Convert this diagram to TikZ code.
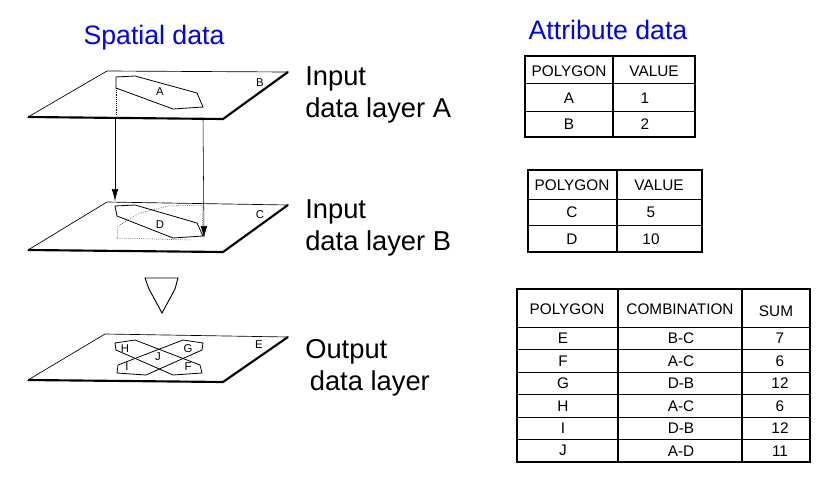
\documentclass[tikz,border=0pt]{standalone}
\usepackage{fontspec}
\setmainfont{Liberation Sans}
\usetikzlibrary{arrows.meta}
\begin{document}
\begin{tikzpicture}[x=0.75pt,y=-0.75pt,
  plane/.style={draw,line width=0.5pt,fill=white},
  planeedge/.style={line width=1.6pt},
  poly/.style={draw,line width=0.6pt},
  lbl/.style={font=\fontsize{8.5}{9}\selectfont,inner sep=0},
  big/.style={font=\fontsize{20.5}{24}\selectfont,align=left,anchor=west,inner sep=0},
  head/.style={font=\fontsize{20}{24}\selectfont,text=blue,inner sep=0},
  cell/.style={font=\fontsize{11.5}{13}\selectfont,inner sep=0},
  tab/.style={draw,line width=0.8pt}]
\useasboundingbox (0,0) rectangle (833,483);
\node[head] (sd) at (154,38) {Spatial data};
\node[head] (ad) at (608,30) {Attribute data};
% plane A
\draw[plane] (107,71) -- (288,72) -- (223,119) -- (28,117) -- cycle;
\draw[planeedge] (28,117) -- (223,119) -- (288,72);
\draw[poly] (116,88) -- (116,77) -- (135,76) -- (197,93) -- (203,107) -- (173,109) -- cycle;
\draw[densely dotted] (116,88) -- (116,116);
\node[lbl] (la) at (160,92) {A};
\node[lbl] (lb) at (260,83) {B};
% plane C
\draw[plane] (107,202) -- (288,205) -- (223,252) -- (28,250) -- cycle;
\draw[planeedge] (28,250) -- (223,252) -- (288,205);
\draw[densely dotted] (117,238) -- (118,226) -- (140,213) -- (168,206) -- (202,205) -- (203,234);
\draw[densely dotted] (117,238) -- (190,240);
\draw[poly] (117,216) -- (115,206) -- (135,205) -- (197,223) -- (203,236) -- (173,238) -- cycle;
\node[lbl] (ld) at (160,225) {D};
\node[lbl] (lc) at (260,215) {C};
\coordinate (a1) at (115,119); \coordinate (a2) at (115,201);
\coordinate (b1) at (203,119); \coordinate (b2) at (204,238);
\draw[-{Latex[length=9pt,width=5pt]}] (a1) -- (a2);
\draw[-{Latex[length=9pt,width=5pt]}] (b1) -- (b2);
% hollow arrow
\draw[line width=0.7pt] (145,278) -- (178,278) -- (175,289) -- (162,313) -- (149,289) -- cycle;
% plane E
\draw[plane] (105,334) -- (288,337) -- (223,382) -- (28,380) -- cycle;
\draw[planeedge] (28,380) -- (223,382) -- (288,337);
\draw[poly] (116,350) -- (115,343) -- (135,340) -- (200,365) -- (202,373) -- (173,375) -- cycle;
\draw[poly] (202,350) -- (203,343) -- (183,340) -- (118,365) -- (117,373) -- (146,375) -- cycle;
\node[lbl] (lh) at (125,349) {H};
\node[lbl] (lg) at (188,349) {G};
\node[lbl] (lj) at (158,357) {J};
\node[lbl] (li) at (127,367) {I};
\node[lbl] (lf) at (188,367) {F};
\node[lbl] (le) at (259,345) {E};
% labels
\node[big] (t1) at (305,95) {Input\\[0pt]data layer A};
\node[big] (t2) at (305,228) {Input\\[0pt]data layer B};
\node[big] (t3) at (305,368) {Output\\[0pt]\,data layer};
% table 1
\draw[tab] (525,56) rectangle (695,137);
\draw[tab] (613,56) -- (613,137);
\draw[line width=0.5pt] (525,83) -- (695,83) (525,111) -- (695,111);
\node[cell] at (569,71) {POLYGON}; \node[cell] at (654,71) {VALUE};
\node[cell] at (569,98) {A}; \node[cell] at (645,98) {1};
\node[cell] at (569,124) {B}; \node[cell] at (645,124) {2};
% table 2
\draw[tab] (528,170) rectangle (702,252);
\draw[tab] (617,170) -- (617,252);
\draw[line width=0.5pt] (528,199) -- (702,199) (528,225) -- (702,225);
\node[cell] at (572,185) {POLYGON}; \node[cell] at (659,185) {VALUE};
\node[cell] at (572,212) {C}; \node[cell] at (651,212) {5};
\node[cell] at (572,239) {D}; \node[cell] at (651,239) {10};
% table 3
\draw[tab] (517,289) rectangle (810,462);
\draw[tab] (618,289) -- (618,462) (742,289) -- (742,462);
\draw[line width=0.5pt] (517,327) -- (810,327);
\foreach \y in {349.5,372,394.5,417,439.5} \draw[line width=0.4pt] (517,\y) -- (810,\y);
\node[cell] at (567,309) {POLYGON}; \node[cell] at (680,309) {COMBINATION}; \node[cell] at (776,311) {SUM};
\foreach \p/\c/\s [count=\i] in {E/B-C/7,F/A-C/6,G/D-B/12,H/A-C/6,I/D-B/12,J/A-D/11}{
  \node[cell] at (563,{327+22.5*(\i-0.5)}) {\p};
  \node[cell] at (681,{327+22.5*(\i-0.5)}) {\c};
  \node[cell] at (780,{327+22.5*(\i-0.5)}) {\s};
}
\end{tikzpicture}
\end{document}
